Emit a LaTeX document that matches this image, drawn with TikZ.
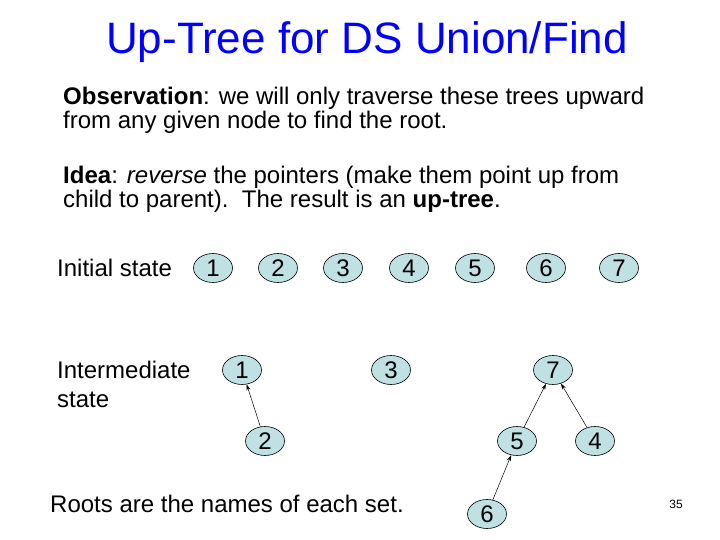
\documentclass[tikz,border=0pt]{standalone}
\usepackage{fontspec}
\setmainfont{Liberation Sans}
\usepackage{tikz}
\usepackage{xcolor}
\usetikzlibrary{shapes.geometric, arrows.meta, positioning}
\definecolor{Node_Fill}{HTML}{BFE1E3}
\definecolor{Title_Blue}{HTML}{0000FF}

\begin{document}
\begin{tikzpicture}[x=1pt, y=-1pt,
    setnode/.style={draw=black, line width=0.6pt, fill=Node_Fill, ellipse, minimum width=39pt, minimum height=29pt, inner sep=0pt, font=\fontsize{24}{24}\selectfont},
    bodytext/.style={anchor=base west, align=left, inner sep=0pt, font=\fontsize{24}{23.5}\selectfont},
    uparrow/.style={-{Stealth[length=6pt, width=4pt]}, line width=0.5pt, black}]
    \useasboundingbox (0,0) rectangle (720,540);

    % Title and explanation
    \node[Title_Blue, font=\fontsize{44}{48}\selectfont, inner sep=0pt] (title) at (367,42) {Up-Tree for DS Union/Find};
    \node[bodytext] (obs) at (63,128.5) {\textbf{Observation}: we will only traverse these trees upward\\from any given node to find the root.};
    \node[bodytext] (idea) at (63,207.5) {\textbf{Idea}: \textit{reverse} the pointers (make them point up from\\child to parent).\ \ The result is an \textbf{up-tree}.};

    % Initial state: every element is its own root
    \node[bodytext, anchor=west] (initlabel) at (57,268) {Initial state};
    \node[setnode] (i1) at (213,268) {1};
    \node[setnode] (i2) at (278,268) {2};
    \node[setnode] (i3) at (343,268) {3};
    \node[setnode] (i4) at (409,268) {4};
    \node[setnode] (i5) at (475,268) {5};
    \node[setnode] (i6) at (546,268) {6};
    \node[setnode] (i7) at (619,268) {7};

    % Intermediate state
    \node[bodytext, font=\fontsize{24}{29}\selectfont] (midlabel) at (57,407) {Intermediate\\state};
    \node[setnode] (m1) at (242,370) {1};
    \node[setnode] (m2) at (265,441) {2};
    \node[setnode] (m3) at (391,370) {3};
    \node[setnode] (m7) at (553,370) {7};
    \node[setnode] (m5) at (517,441) {5};
    \node[setnode] (m4) at (595,441) {4};
    \node[setnode] (m6) at (487,514) {6};

    % Pointers go from child up to parent
    \draw[uparrow] (m2) -- (m1);
    \draw[uparrow] (m5) -- (m7);
    \draw[uparrow] (m4) -- (m7);
    \draw[uparrow] (m6) -- (m5);

    \node[bodytext, anchor=west] (roots) at (50,504) {Roots are the names of each set.};
    \node[font=\fontsize{12}{14}\selectfont] (pagenum) at (676,504) {35};
\end{tikzpicture}
\end{document}
